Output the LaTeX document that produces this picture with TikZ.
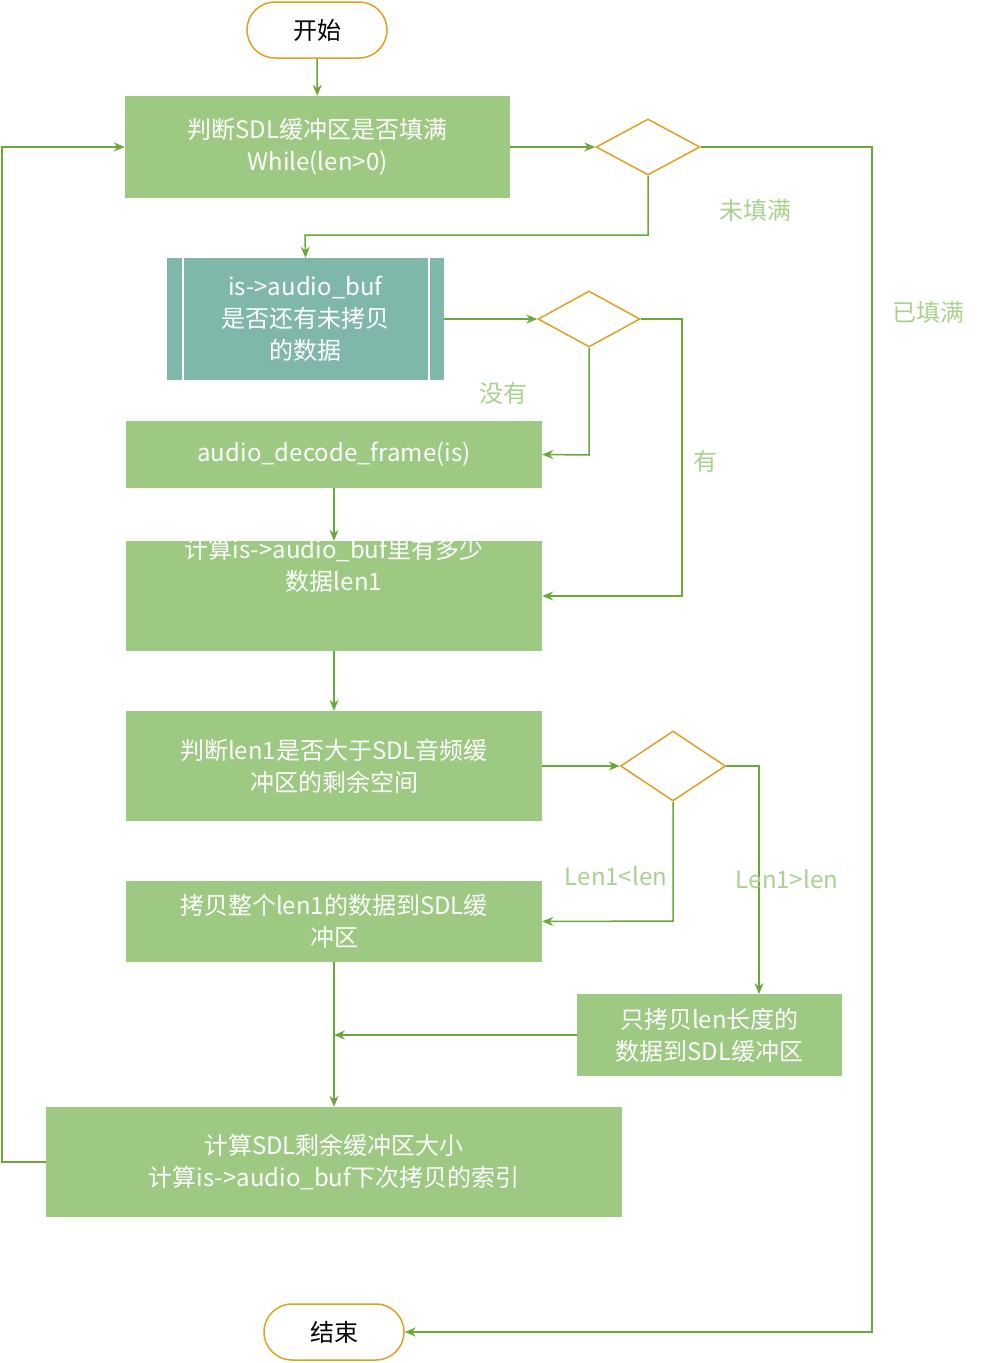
\documentclass[tikz,border=0pt]{standalone}
\usepackage{fontspec}
\setmainfont{Noto Sans CJK SC}
\usetikzlibrary{shapes.geometric,arrows.meta}
\definecolor{boxg}{HTML}{9DC983}
\definecolor{boxt}{HTML}{7FB8AA}
\definecolor{lg}{HTML}{6BA83A}
\definecolor{org}{HTML}{E0A020}
\definecolor{lbl}{HTML}{A9D18E}
\begin{document}
\begin{tikzpicture}[x=1pt,y=-1pt,
  box/.style={draw=none,fill=boxg,text=white,font=\fontsize{24}{32}\selectfont,align=center,inner sep=0},
  term/.style={draw=org,line width=1.5pt,rounded corners=28pt,fill=white,minimum width=140pt,minimum height=56pt,font=\fontsize{24}{30}\selectfont},
  dia/.style={draw=org,line width=1.5pt,fill=white,diamond,inner sep=0},
  lab/.style={text=lbl,font=\fontsize{24}{30}\selectfont},
  arr/.style={draw=lg,line width=1.5pt,-{Stealth[length=11pt,width=9pt]}},
  ln/.style={draw=lg,line width=1.5pt}]
\useasboundingbox (0,0) rectangle (993,1363);
\node[term] (start) at (317,30) {开始};
\node[box,minimum width=385pt,minimum height=102pt] (b1) at (317.5,147) {判断SDL缓冲区是否填满\\While(len>0)};
\node[dia,minimum width=104pt,minimum height=56pt] (d1) at (648,147) {};
\node[box,fill=boxt,minimum width=277pt,minimum height=122pt] (b2) at (305.5,319) {is->audio\_buf\\是否还有未拷贝\\的数据};
\draw[white,line width=1.5pt] (183,258) -- (183,380) (429,258) -- (429,380);
\node[dia,minimum width=102pt,minimum height=56pt] (d2) at (589,319) {};
\node[box,minimum width=416pt,minimum height=67pt] (b3) at (334,454.5) {audio\_decode\_frame(is)};
\node[box,minimum width=416pt,minimum height=110pt] (b4) at (334,596) {};
\node[box,fill=none,anchor=north] (b4t) at (334,538) {计算is->audio\_buf里有多少\\数据len1};
\node[box,minimum width=416pt,minimum height=110pt] (b5) at (334,766) {判断len1是否大于SDL音频缓\\冲区的剩余空间};
\node[dia,minimum width=105pt,minimum height=70pt] (d3) at (673,766) {};
\node[box,minimum width=416pt,minimum height=81pt] (b6) at (334,921.5) {拷贝整个len1的数据到SDL缓\\冲区};
\node[box,minimum width=265pt,minimum height=82pt] (b7) at (709.5,1035) {只拷贝len长度的\\数据到SDL缓冲区};
\node[box,minimum width=576pt,minimum height=110pt] (b8) at (334,1162) {计算SDL剩余缓冲区大小\\计算is->audio\_buf下次拷贝的索引};
\node[term] (end) at (334,1332) {结束};
\coordinate (j) at (334,1035);
\coordinate (b7top) at (759,994);
\draw[arr] (start) -- (b1);
\draw[arr] (b1) -- (d1);
\draw[arr] (d1.south) -- (648,235) -- (305,235) -- (b2.north);
\draw[arr] (d1.east) -- (872,147) -- (872,1332) -- (end.east);
\draw[arr] (b2) -- (d2);
\draw[arr] (d2.south) -- (589,455) -- (b3.east);
\draw[arr] (d2.east) -- (682,319) -- (682,596) -- (b4.east);
\draw[arr] (b3) -- (b4);
\draw[arr] (b4) -- (b5);
\draw[arr] (b5) -- (d3);
\draw[arr] (d3.south) -- (673,921) -- (b6.east);
\draw[arr] (d3.east) -- (759,766) -- (b7top);
\draw[arr] (b6) -- (b8);
\draw[arr] (b7) -- (j);
\draw[arr] (b8.west) -- (2,1162) -- (2,147) -- (b1.west);
\node[lab] at (755,210) {未填满};
\node[lab] at (928,312) {已填满};
\node[lab] at (503,393) {没有};
\node[lab] at (705,461) {有};
\node[lab] at (616,876) {Len1<len};
\node[lab] at (787,879) {Len1>len};
\end{tikzpicture}
\end{document}
